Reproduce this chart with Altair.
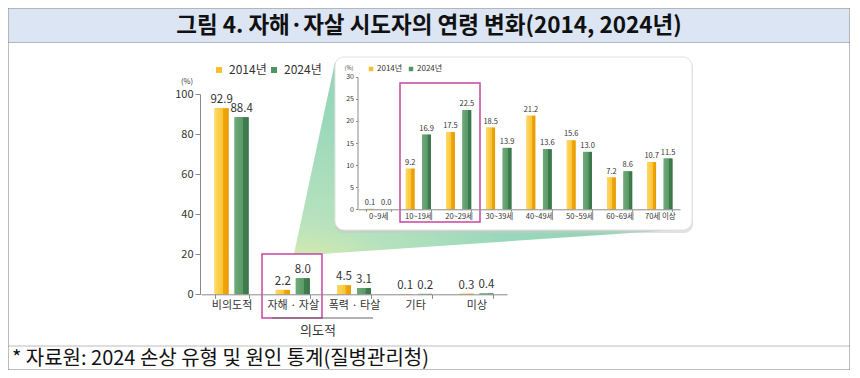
import altair as alt
import pandas as pd

FONT = "Noto Sans CJK KR"

# ---------------- data ----------------
years = ["2014년", "2024년"]

main_categories = ["비의도적", "자해 · 자살", "폭력 · 타살", "기타", "미상"]
main_2014 = [92.9, 2.2, 4.5, 0.1, 0.3]
main_2024 = [88.4, 8.0, 3.1, 0.2, 0.4]
main_y_ticks = [0, 20, 40, 60, 80, 100]

age_categories = ["0~9세", "10~19세", "20~29세", "30~39세", "40~49세",
                  "50~59세", "60~69세", "70세 이상"]
age_2014 = [0.1, 9.2, 17.5, 18.5, 21.2, 15.6, 7.2, 10.7]
age_2024 = [0.0, 16.9, 22.5, 13.9, 13.6, 13.0, 8.6, 11.5]
age_y_ticks = [0, 5, 10, 15, 20, 25, 30]

title_text = "그림 4. 자해·자살 시도자의 연령 변화(2014, 2024년)"
source_text = "* 자료원: 2024 손상 유형 및 원인 통계(질병관리청)"
group_label = "의도적"
unit_label = "(%)"

# ---------------- layout (chart pixels) ----------------
W, H = 844, 362

ORANGE = "#f8bf2c"
GREEN = "#4f9462"
TXT = "#333333"
AXC = "#8a8a8a"
MAGENTA = "#c8459e"

grad14 = alt.LinearGradient(
    gradient="linear", x1=0, x2=1, y1=0, y2=0,
    stops=[alt.GradientStop(offset=0, color="#fed866"),
           alt.GradientStop(offset=0.6, color="#fbc534"),
           alt.GradientStop(offset=0.62, color="#efa60c"),
           alt.GradientStop(offset=1, color="#e89c04")])
grad24 = alt.LinearGradient(
    gradient="linear", x1=0, x2=1, y1=0, y2=0,
    stops=[alt.GradientStop(offset=0, color="#6daa78"),
           alt.GradientStop(offset=0.6, color="#5a9a68"),
           alt.GradientStop(offset=0.62, color="#3f7d4f"),
           alt.GradientStop(offset=1, color="#3a764a")])

one = pd.DataFrame({"k": [0]})


def rect(x1, x2, y1, y2, **kw):
    return alt.Chart(one).mark_rect(**kw).encode(
        x=alt.value(x1), x2=alt.value(x2), y=alt.value(y1), y2=alt.value(y2))


def hline(x1, x2, y, **kw):
    return alt.Chart(one).mark_rule(**kw).encode(
        x=alt.value(x1), x2=alt.value(x2), y=alt.value(y))


def vline(x, y1, y2, **kw):
    return alt.Chart(one).mark_rule(**kw).encode(
        x=alt.value(x), y=alt.value(y1), y2=alt.value(y2))


def label(x, y, text, **kw):
    kw.setdefault("font", FONT)
    kw.setdefault("color", TXT)
    return alt.Chart(one).mark_text(text=text, **kw).encode(
        x=alt.value(x), y=alt.value(y))


def panel(cats, v14, v24, xrange, pin, xo_pin, yrange, ydom, yticks,
          yaxis_x, fs_x, fs_y, fs_val, dy_val, tick_main, tick_y, legend):
    n = len(cats)
    df = pd.DataFrame({"cat": cats * 2,
                       "year": [years[0]] * n + [years[1]] * n,
                       "value": v14 + v24})
    xs = alt.Scale(type="band", domain=cats, range=xrange, paddingInner=pin,
                   paddingOuter=pin / 2)
    xos = alt.Scale(type="band", domain=years, paddingInner=xo_pin,
                    paddingOuter=0)
    ys = alt.Scale(domain=ydom, range=yrange, nice=False)
    cs = alt.Scale(domain=years, range=[ORANGE, GREEN])
    base = alt.Chart(df).encode(
        x=alt.X("cat:N", scale=xs, axis=None),
        xOffset=alt.XOffset("year:N", scale=xos),
        y=alt.Y("value:Q", scale=ys, axis=None))
    xaxis = alt.Axis(orient="bottom", offset=-(H - yrange[0]), title=None,
                     domainColor=AXC, tickColor=AXC, tickSize=tick_main,
                     tickBand="extent", labelFont=FONT, labelFontSize=fs_x,
                     labelColor=TXT, labelPadding=1, labelAngle=0,
                     domainWidth=1, tickWidth=1, zindex=1)
    yaxis = alt.Axis(orient="left", offset=-yaxis_x, title=None,
                     values=yticks, grid=False, domainColor=AXC,
                     tickColor=AXC, tickSize=tick_y, labelFont=FONT,
                     labelFontSize=fs_y, labelColor=TXT, labelPadding=2,
                     domainWidth=1, tickWidth=1, zindex=1)
    solid = base.mark_bar().encode(
        x=alt.X("cat:N", scale=xs, axis=xaxis),
        y=alt.Y("value:Q", scale=ys, axis=yaxis),
        color=alt.Color("year:N", scale=cs, legend=legend))
    o14 = base.mark_bar(fill=grad14).transform_filter(
        alt.datum.year == years[0])
    o24 = base.mark_bar(fill=grad24).transform_filter(
        alt.datum.year == years[1])
    txt = base.mark_text(font=FONT, fontSize=fs_val, color=TXT,
                         baseline="middle", dy=dy_val).encode(
        text=alt.Text("value:Q", format=".1f"))
    return [solid, o14, o24, txt]


main_legend = alt.Legend(orient="none", legendX=205, legendY=56,
                         direction="horizontal", title=None,
                         symbolType="square", symbolSize=36,
                         symbolStrokeWidth=0, labelFont=FONT,
                         labelFontSize=12, labelColor=TXT, labelOffset=4,
                         columnPadding=1, padding=0)
age_legend = alt.Legend(orient="none", legendX=359, legendY=57,
                        direction="horizontal", title=None,
                        symbolType="square", symbolSize=20,
                        symbolStrokeWidth=0, labelFont=FONT,
                        labelFontSize=8, labelColor=TXT, labelOffset=2,
                        columnPadding=4, padding=0)

main_layers = panel(main_categories, main_2014, main_2024,
                    xrange=[193, 499], pin=0.444, xo_pin=0.3,
                    yrange=[286.3, 86], ydom=[0, 100], yticks=main_y_ticks,
                    yaxis_x=192, fs_x=11, fs_y=11, fs_val=11.5, dy_val=-8,
                    tick_main=4, tick_y=5, legend=main_legend)
age_layers = panel(age_categories, age_2014, age_2024,
                   xrange=[350, 672], pin=0.375, xo_pin=0.466,
                   yrange=[201.3, 68.8], ydom=[0, 30], yticks=age_y_ticks,
                   yaxis_x=349.5, fs_x=7.5, fs_y=7, fs_val=7.5, dy_val=-6,
                   tick_main=2, tick_y=2, legend=age_legend)

# funnel decoration (pixel outline)
funnel = pd.DataFrame({"fx": [286, 315, 327, 682],
                       "ft": [246, 110, 54, 221],
                       "fb": [246, 246, 245, 221]})
funnel_grad = alt.RadialGradient(
    gradient="radial", x1=0, y1=1, r1=0, x2=0, y2=1, r2=1,
    stops=[alt.GradientStop(offset=0, color="#f6f09c"),
           alt.GradientStop(offset=0.15, color="#eef0a4"),
           alt.GradientStop(offset=0.35, color="#b6e2bd"),
           alt.GradientStop(offset=0.6, color="#9ad8bb"),
           alt.GradientStop(offset=0.85, color="#94d3b5"),
           alt.GradientStop(offset=1, color="#b9dccb")])
funnel_layer = alt.Chart(funnel).mark_area(fill=funnel_grad, opacity=1).encode(
    x=alt.X("fx:Q", scale=None, axis=None),
    y=alt.Y("ft:Q", scale=None, axis=None),
    y2="fb:Q")

dot = dict(color="#7a7a7a", strokeDash=[1, 1], strokeWidth=1)

layers = [
    rect(0.5, 841.5, 0.5, 34.5, fill="#dce5f4"),
    hline(0.5, 841.5, 0.5, **dot),
    hline(0.5, 841.5, 34.5, **dot),
    hline(0.5, 841.5, 338, **dot),
    hline(0.5, 841.5, 361.5, **dot),
    vline(0.5, 0.5, 361.5, **dot),
    vline(841.5, 0.5, 361.5, **dot),
    label(421, 18, title_text, fontSize=22.5, fontWeight="bold",
          color="#111111", align="center", baseline="middle"),
    label(4, 351, source_text, fontSize=20, align="left",
          baseline="middle", color="#111111"),
    funnel_layer,
    rect(327, 685, 51, 225, fill="#c9c9c9", opacity=0.55, cornerRadius=9),
    rect(327, 684, 49, 222, fill="white", stroke="#e2e2e2",
         strokeWidth=1, cornerRadius=9),
    rect(254, 314, 246, 310, fill="white", fillOpacity=0, stroke=MAGENTA,
         strokeWidth=1.5),
    rect(392, 472, 75, 214, fill="white", fillOpacity=0, stroke=MAGENTA,
         strokeWidth=1.5),
    hline(264, 365, 310, color="#666666", strokeWidth=1),
    label(310, 323, group_label, fontSize=13, align="center",
          baseline="middle"),
    label(179, 74, unit_label, fontSize=7.5, align="center",
          baseline="middle"),
    label(341, 60, unit_label, fontSize=5.5, align="center",
          baseline="middle"),
] + main_layers + age_layers

chart = alt.layer(*layers).resolve_scale(
    x="independent", y="independent", xOffset="independent",
    color="independent"
).resolve_legend(color="independent").properties(
    width=W, height=H, autosize=alt.AutoSizeParams(type="none"),
    padding=0, background="white"
).configure_view(stroke=None)

chart.save("out.html", embed_options={"renderer": "svg", "actions": False})
